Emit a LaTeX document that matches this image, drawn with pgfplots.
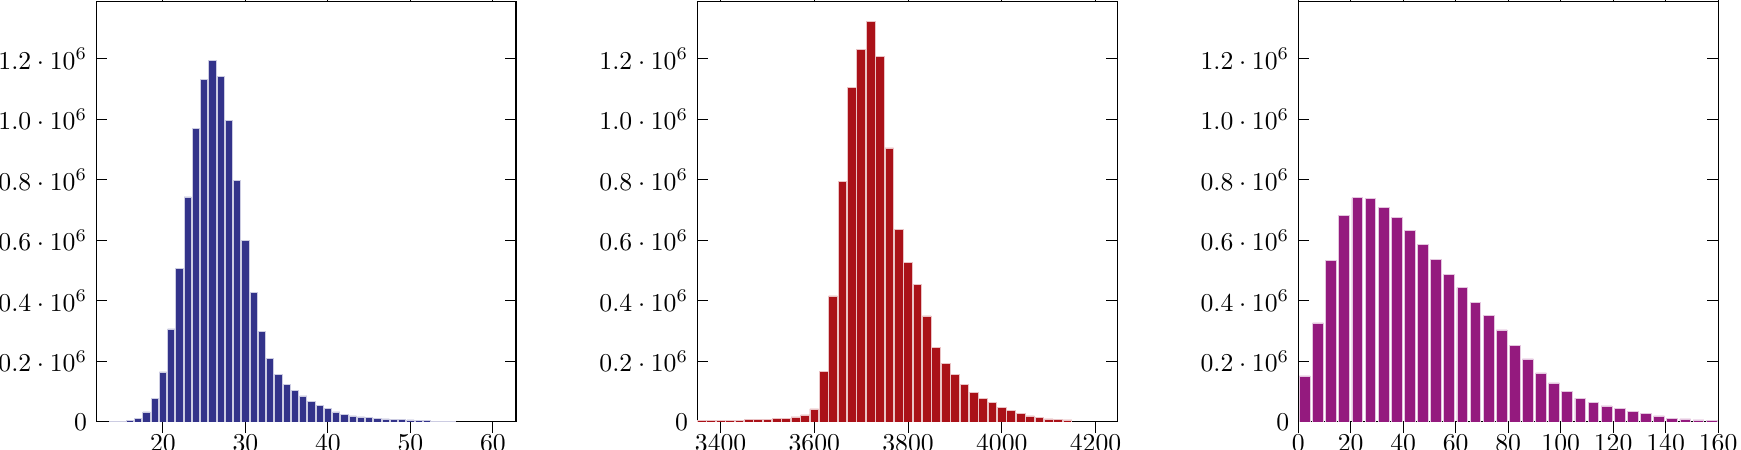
\documentclass[border=0pt]{standalone}
\usepackage{pgfplots}
\pgfplotsset{compat=1.18}
\definecolor{cA}{RGB}{51,51,138}
\definecolor{cB}{RGB}{170,17,24}
\definecolor{cC}{RGB}{148,26,126}
\pgfplotsset{
  hist/.style={
    scale only axis, width=163.4pt, height=163.8pt,
    ymin=0, ymax=1390000,
    ytick={0,200000,400000,600000,800000,1000000,1200000},
    yticklabels={$0$,$0.2\cdot10^{6}$,$0.4\cdot10^{6}$,$0.6\cdot10^{6}$,$0.8\cdot10^{6}$,$1.0\cdot10^{6}$,$1.2\cdot10^{6}$},
    scaled y ticks=false,
    xticklabel style={/pgf/number format/set thousands separator={}, yshift=2.7pt},
    ybar, bar shift=0pt,
    tick style={black, thin},
  }
}
\begin{document}
\begin{tikzpicture}
\begin{axis}[hist, at={(0pt,0pt)}, xmin=11.9, xmax=62.8, xtick={20,30,40,50,60}, bar width=0.88]
\addplot[fill=cA, draw=cA!25, line width=0.3pt] coordinates {
(14,1000)(15,2000)(16,5000)(17,13000)(18,33000)(19,77000)(20,165000)(21,307000)(22,506000)(23,743000)(24,968000)(25,1132000)(26,1194000)(27,1142000)(28,997000)(29,798000)(30,600000)(31,429000)(32,300000)(33,211000)(34,158000)(35,125000)(36,103000)(37,86000)(38,69000)(39,56000)(40,44000)(41,33000)(42,26000)(43,20000)(44,16500)(45,14000)(46,13000)(47,10000)(48,9000)(49,7500)(50,6500)(51,5000)(52,4000)(53,2000)(54,1500)(55,1000)
};
\end{axis}
\begin{axis}[hist, at={(233.9pt,0pt)}, xmin=3350, xmax=4246, xtick={3400,3600,3800,4000,4200}, bar width=18.6]
\addplot[fill=cB, draw=cB!25, line width=0.3pt] coordinates {
(3360,4400)(3380,4400)(3400,5500)(3420,5500)(3440,5500)(3460,8800)(3480,8800)(3500,8800)(3520,13000)(3540,13000)(3560,16500)(3580,23000)(3600,43000)(3620,168000)(3640,416000)(3660,793000)(3680,1106000)(3700,1231000)(3720,1324000)(3740,1208000)(3760,905000)(3780,636000)(3800,527000)(3820,455000)(3840,350000)(3860,247000)(3880,192000)(3900,157000)(3920,124000)(3940,98000)(3960,79000)(3980,65000)(4000,49000)(4020,38000)(4040,29500)(4060,19800)(4080,14300)(4100,9900)(4120,7700)(4140,6600)
};
\end{axis}
\begin{axis}[hist, at={(467.8pt,0pt)}, xmin=0, xmax=160, xtick={0,20,40,60,80,100,120,140,160}, bar width=4.1]
\addplot[fill=cC, draw=cC!25, line width=0.3pt] coordinates {
(2.5,152000)(7.5,327000)(12.5,532000)(17.5,683000)(22.5,740000)(27.5,737000)(32.5,709000)(37.5,674000)(42.5,631000)(47.5,585000)(52.5,538000)(57.5,488000)(62.5,444000)(67.5,396000)(72.5,352000)(77.5,304000)(82.5,254000)(87.5,208000)(92.5,162000)(97.5,129000)(102.5,102000)(107.5,79000)(112.5,65000)(117.5,53000)(122.5,44000)(127.5,36000)(132.5,29000)(137.5,20000)(142.5,13000)(147.5,10000)(152.5,6600)(157.5,5500)
};
\end{axis}
\pgfresetboundingbox
\path[use as bounding box] (-37.4pt,-10.9pt) rectangle (640.1pt,164.2pt);
\end{tikzpicture}
\end{document}
